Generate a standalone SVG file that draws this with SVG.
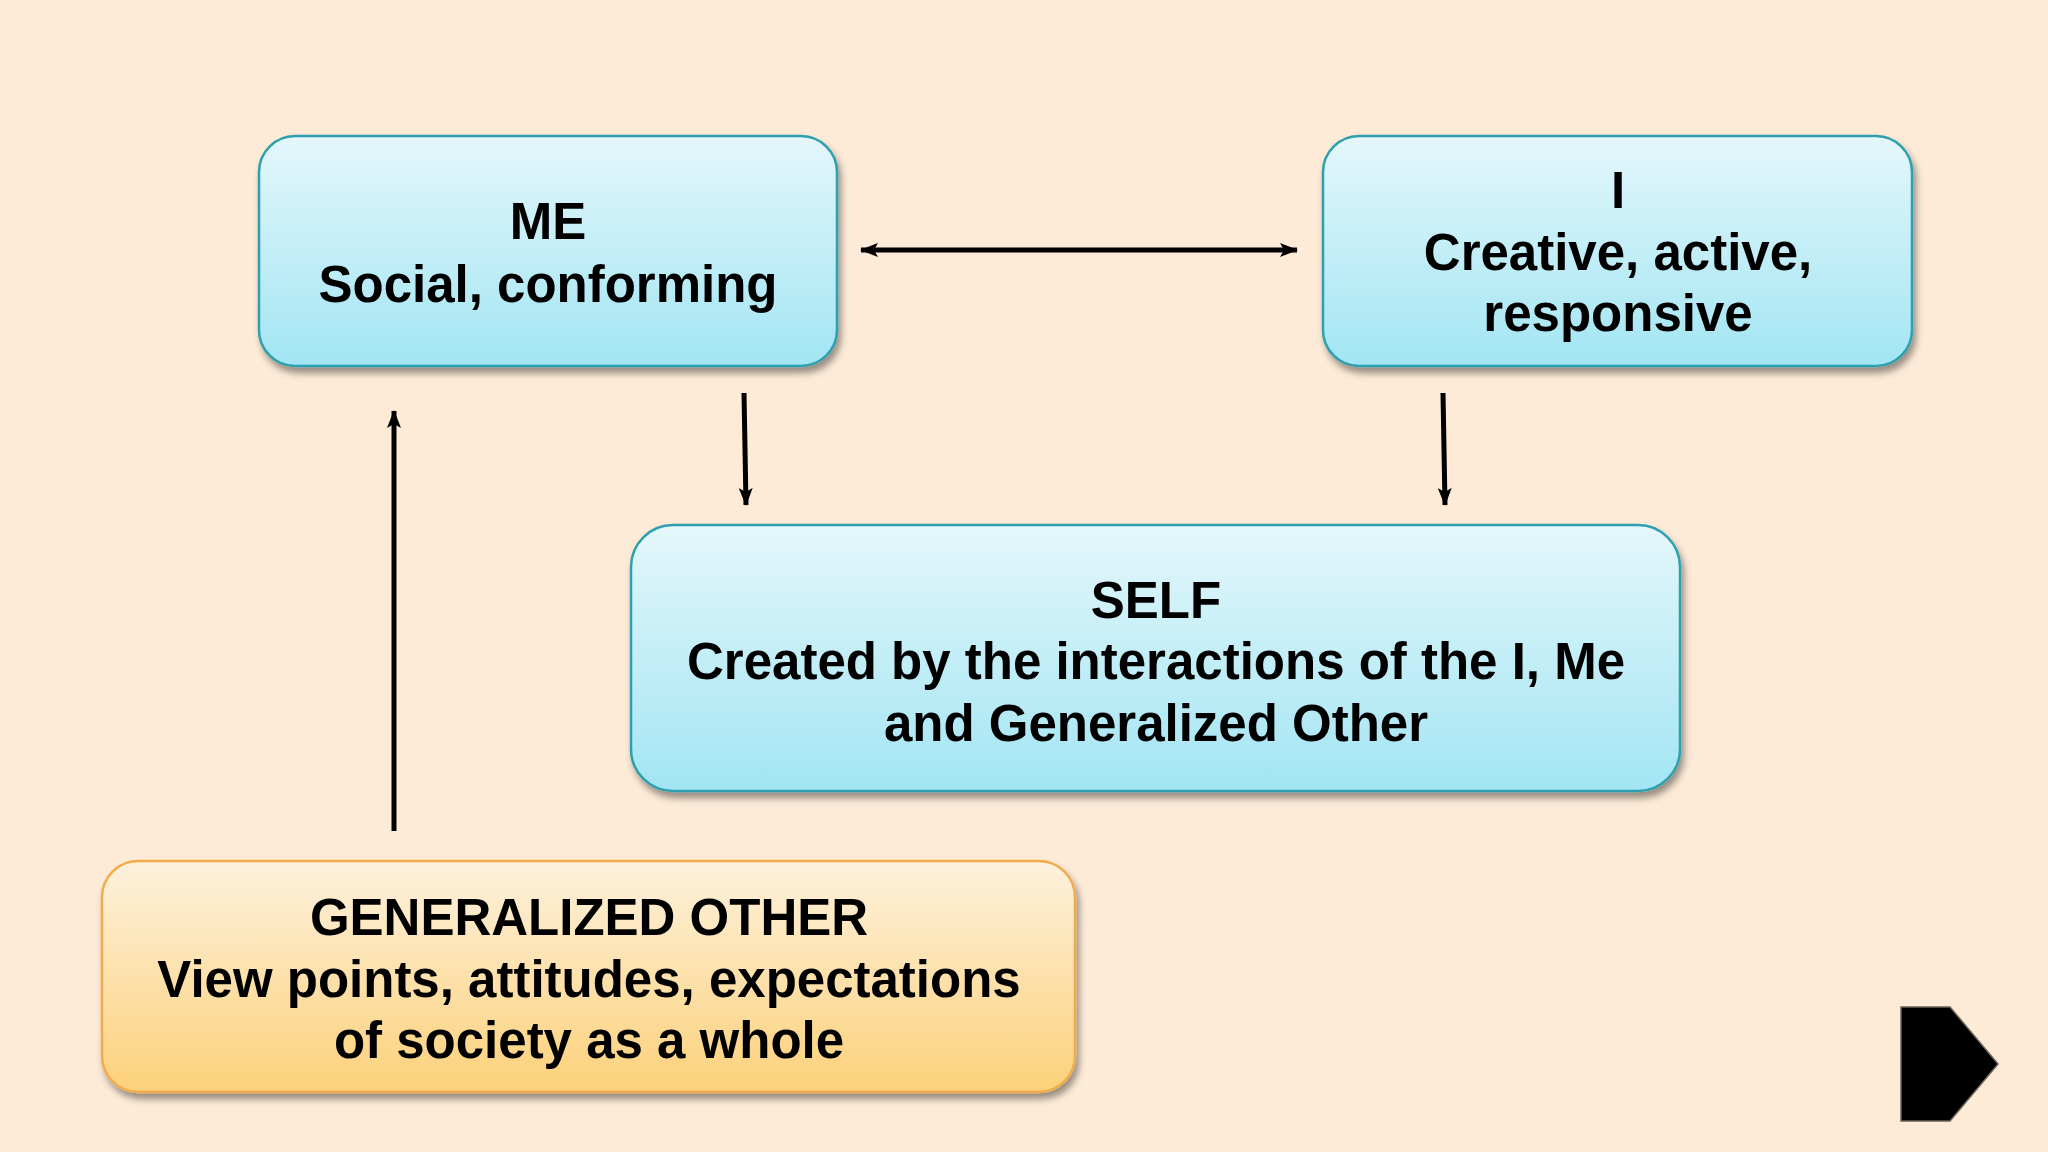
<svg xmlns="http://www.w3.org/2000/svg" width="2048" height="1152" viewBox="0 0 2048 1152">
<style>
.t{font-family:"Liberation Sans",Arial,sans-serif;font-weight:bold;font-size:51px;fill:#000;text-anchor:middle}
.blue{fill:url(#gb);stroke:#2f9fae;stroke-width:2.5}
.orange{fill:url(#go);stroke:#f0ac4c;stroke-width:2.5}
.c{stroke:#000;stroke-width:5;fill:none}
</style>
<defs>
<linearGradient id="gb" x1="0" y1="0" x2="0" y2="1"><stop offset="0" stop-color="#e4f7fb"/><stop offset="1" stop-color="#a2e5f3"/></linearGradient>
<linearGradient id="go" x1="0" y1="0" x2="0" y2="1"><stop offset="0" stop-color="#fdf1dd"/><stop offset="1" stop-color="#fcd17a"/></linearGradient>
<filter id="sh" x="-5%" y="-5%" width="112%" height="120%"><feDropShadow dx="3" dy="6" stdDeviation="3.5" flood-color="#000" flood-opacity="0.4"/></filter>
<marker id="ah" viewBox="0 0 18 14" refX="17" refY="7" markerWidth="18" markerHeight="14" markerUnits="userSpaceOnUse" orient="auto-start-reverse"><path d="M0,0 L18,7 L0,14 L4,7 Z" fill="#000"/></marker>
</defs>
<rect width="2048" height="1152" fill="#fdebd8"/>
<g id="me">
<rect class="blue" x="259" y="136" width="578" height="230" rx="36" filter="url(#sh)"/>
<text class="t" x="548" y="239">ME</text>
<text class="t" x="548" y="302">Social, conforming</text>
</g>
<g id="i">
<rect class="blue" x="1323" y="136" width="589" height="230" rx="36" filter="url(#sh)"/>
<text class="t" x="1618" y="208">I</text>
<text class="t" x="1618" y="270">Creative, active,</text>
<text class="t" x="1618" y="331">responsive</text>
</g>
<g id="self">
<rect class="blue" x="631" y="525" width="1049" height="266" rx="42" filter="url(#sh)"/>
<text class="t" x="1156" y="618">SELF</text>
<text class="t" x="1156" y="679">Created by the interactions of the I, Me</text>
<text class="t" x="1156" y="741">and Generalized Other</text>
</g>
<g id="generalized-other">
<rect class="orange" x="102" y="861" width="973" height="231" rx="36" filter="url(#sh)"/>
<text class="t" x="589" y="935">GENERALIZED OTHER</text>
<text class="t" x="589" y="997">View points, attitudes, expectations</text>
<text class="t" x="589" y="1058">of society as a whole</text>
</g>
<g id="connectors">
<line class="c" x1="861" y1="250" x2="1297" y2="250" marker-start="url(#ah)" marker-end="url(#ah)"/>
<line class="c" x1="744" y1="393" x2="746" y2="505" marker-end="url(#ah)"/>
<line class="c" x1="1443" y1="393" x2="1445" y2="505" marker-end="url(#ah)"/>
<line class="c" x1="394" y1="831" x2="394" y2="411" marker-end="url(#ah)"/>
</g>
<g id="next-button">
<polygon points="1901,1007 1950,1007 1998,1064 1950,1121 1901,1121" fill="#000" stroke="#6b6258" stroke-width="1.5"/>
</g>
</svg>
